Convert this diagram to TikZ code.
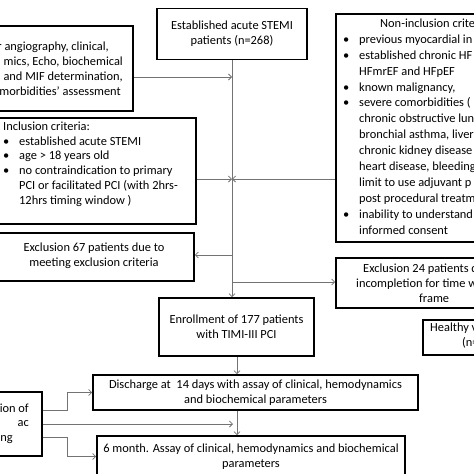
\documentclass[tikz,border=0pt]{standalone}
\usepackage{fontspec}
\setmainfont{Carlito}
\usetikzlibrary{arrows.meta}
\newcommand{\bul}{\makebox[16pt][l]{•}}
\begin{document}
\begin{tikzpicture}[x=1pt,y=-1pt,
  box/.style={draw=black,line width=1.7pt,inner sep=0pt,fill=none},
  txt/.style={inner sep=0pt,font=\fontsize{12.4}{15}\selectfont},
  conn/.style={draw=black!55,line width=0.75pt,-{Straight Barb[length=3pt,width=6pt]}}]
\useasboundingbox[fill=white] (0,0) rectangle (474,474);
\clip (0,0) rectangle (474,474);
% boxes
\node[box,txt,align=center,minimum width=150pt,minimum height=51pt] (A) at (232,34) {Established acute STEMI\\patients (n=268)};
\node[box,minimum width=160pt,minimum height=85pt] (B) at (53,68.5) {};
\node[txt,align=right,anchor=east] (Bt) at (123,68.5) {r angiography, clinical,\hspace*{14pt}\\mics, Echo, biochemical\hspace*{4pt}\\and MIF determination,\\morbidities’ assessment\hspace*{2pt}};
\node[box,minimum width=223pt,minimum height=106pt] (C) at (84.5,171) {};
\node[txt,align=left,anchor=west,font=\fontsize{12.4}{14.8}\selectfont] (Ct) at (3,164) {Inclusion criteria:\\\bul established acute STEMI\\\bul age > 18 years old\\\bul no contraindication to primary\\\hspace*{16pt}PCI or facilitated PCI (with 2hrs-\\\hspace*{16pt}12hrs timing window )};
\node[box,minimum width=164pt,minimum height=228pt] (D) at (418,128) {};
\node[txt,align=left,anchor=west,font=\fontsize{12.4}{15.9}\selectfont] (Dt) at (343,126.5) {\hspace*{37pt}Non-inclusion crite\\\bul previous myocardial in\\\bul established chronic HF\\\hspace*{16pt}HFmrEF and HFpEF\\\bul known malignancy,\\\bul severe comorbidities (\\\hspace*{16pt}chronic obstructive lun\\\hspace*{16pt}bronchial asthma, liver\\\hspace*{16pt}chronic kidney disease\\\hspace*{16pt}heart disease, bleeding\\\hspace*{16pt}limit to use adjuvant p\\\hspace*{16pt}post procedural treatm\\\bul inability to understand\\\hspace*{16pt}informed consent};
\node[box,minimum width=221pt,minimum height=48pt] (E) at (83.5,257) {};
\node[txt,align=center] (Et) at (94,256) {Exclusion 67 patients due to\\meeting exclusion criteria};
\node[box,minimum width=184pt,minimum height=50pt] (F) at (428,283) {};
\node[txt,align=left,anchor=west] (Ft) at (356,283) {\hspace*{7pt}Exclusion 24 patients d\\incompletion for time w\\\hspace*{63pt}frame};
\node[box,minimum width=97pt,minimum height=35pt] (G) at (471.5,337.5) {};
\node[txt,align=left,anchor=west] (Gt) at (430,335.5) {Healthy v\\\hspace*{32pt}(n=};
\node[box,txt,align=center,minimum width=155pt,minimum height=58pt] (H) at (236.5,327) {Enrollment of 177 patients\\with TIMI-III PCI};
\node[box,txt,align=center,minimum width=325pt,minimum height=35pt] (I) at (255.5,392.5) {Discharge at\ \ 14 days with assay of clinical, hemodynamics\\and biochemical parameters};
\node[box,txt,align=center,minimum width=308pt,minimum height=41pt] (J) at (251,456.5) {6 month. Assay of clinical, hemodynamics and biochemical\\parameters};
\node[box,minimum width=69pt,minimum height=64pt] (K) at (7.5,424) {};
\node[txt,align=right,anchor=east,font=\fontsize{12.4}{14.5}\selectfont] (Kt) at (29,423.5) {ion of\\ac\hspace*{18pt}\\ing\hspace*{16pt}};
% connector points
\coordinate (m1) at (232,77);
\coordinate (m2) at (232,179);
\coordinate (m3) at (232,255);
\coordinate (m4) at (232,282);
\coordinate (h1) at (237,0);
\coordinate (k1) at (67,410);
\coordinate (k2) at (233,424);
\coordinate (k3) at (67,437);
% connectors
\draw[conn] (A.south) -- (A.south |- H.north);
\draw[conn] (B.east |- m1) -- (m1);
\draw[conn] (C.east |- m2) -- (m2);
\draw[conn] (D.west |- m2) -- (m2);
\draw[conn] (m3) -- (m3 -| E.east);
\draw[conn] (m4) -- (m4 -| F.west);
\draw[conn] (h1 |- H.south) -- (h1 |- I.north);
\draw[conn] (h1 |- I.south) -- (h1 |- J.north);
\draw[conn] (K.east |- k1) -- (k1) |- (I.west);
\draw[conn] (K.east |- k2) -- (k2);
\draw[conn] (K.east |- k3) -- (k3) |- (J.west);
\end{tikzpicture}
\end{document}
